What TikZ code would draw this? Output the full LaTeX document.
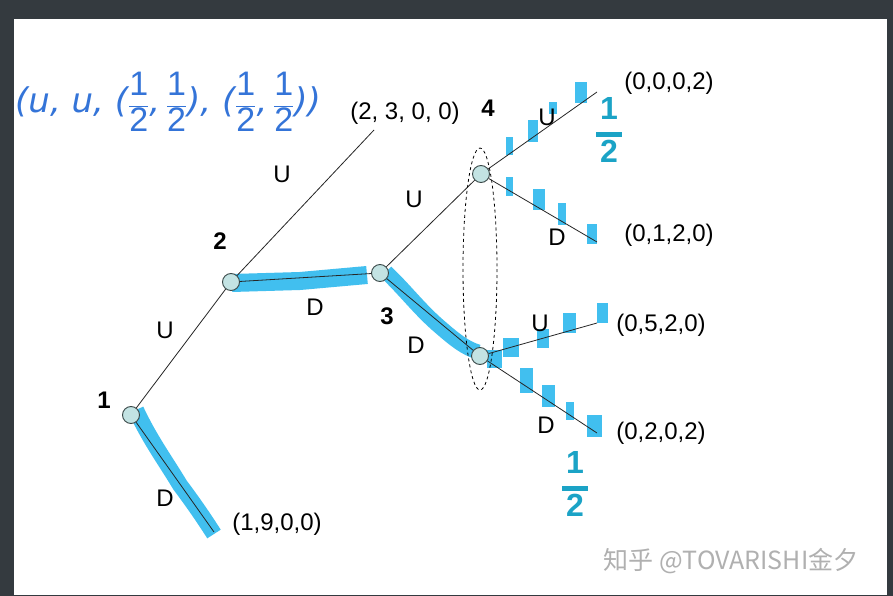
\documentclass[tikz,border=0pt]{standalone}
\usepackage{fontspec}
\setmainfont{Liberation Sans}
\newfontfamily\cjkfont{Noto Sans CJK SC}
\newfontfamily\handfont{DejaVu Sans}
\definecolor{bgdark}{HTML}{343A3F}
\definecolor{nodefill}{HTML}{C3E3E3}
\definecolor{nodeedge}{HTML}{3A4848}
\definecolor{hl}{HTML}{41BFEF}
\definecolor{handblue}{HTML}{3474D8}
\definecolor{teal}{HTML}{1BA3C6}
\definecolor{wmgray}{HTML}{B0B0B0}
\newcommand{\hhalf}{\ensuremath{\displaystyle\frac{\mathrm{1}}{\mathrm{2}}}}
\begin{document}
\begin{tikzpicture}[x=1pt,y=-1pt,
  state/.style={circle,draw=nodeedge,fill=nodefill,line width=0.9pt,minimum size=17pt,inner sep=0pt},
  branch/.style={draw=black!85,line width=0.8pt},
  lbl/.style={font=\fontsize{24}{28}\selectfont,inner sep=0pt},
  num/.style={font=\fontsize{24}{28}\selectfont\bfseries,inner sep=0pt},
  hlstroke/.style={draw=hl,line width=15pt,line cap=butt,line join=round},
  halfmark/.style={text=teal,inner sep=0pt,font=\fontsize{32}{32}\selectfont\bfseries}
]
\useasboundingbox (0,0) rectangle (893,596);
\fill[bgdark] (0,0) rectangle (893,596);
\fill[white] (14,19) rectangle (887,595);

% highlights
\draw[hlstroke,line width=16pt] (136,410) .. controls (150,440) and (165,460) .. (180,485) .. controls (195,505) and (205,520) .. (214,534);
\draw[hlstroke,line width=18pt] (232,283) -- (300,281) -- (367,275);
\draw[hlstroke,line width=15pt] (386,272) .. controls (405,290) and (420,310) .. (440,327) .. controls (455,340) and (465,348) .. (478,352);
% N4a U blocks
\fill[hl] (506,137) rectangle (513,155);
\fill[hl] (528,120) rectangle (538,142);
\fill[hl] (549,102) rectangle (557,114);
\fill[hl] (575,82) rectangle (587,103);
% N4a D blocks
\fill[hl] (506,177) rectangle (513,196);
\fill[hl] (533,189) rectangle (545,210);
\fill[hl] (558,203) rectangle (566,225);
\fill[hl] (587,224) rectangle (597,244);
% N4b U blocks
\fill[hl] (487,350) rectangle (502,368);
\fill[hl] (503,338) rectangle (519,357);
\fill[hl] (537,329) rectangle (549,348);
\fill[hl] (563,313) rectangle (576,333);
\fill[hl] (597,303) rectangle (608,323);
% N4b D blocks
\fill[hl] (520,368) rectangle (533,393);
\fill[hl] (542,385) rectangle (555,407);
\fill[hl] (566,402) rectangle (574,420);
\fill[hl] (587,415) rectangle (602,437);

% info set
\draw[dashed,line width=0.8pt] (480,269) ellipse [x radius=17, y radius=121];

% nodes
\node[state] (n1) at (131,415) {};
\node[state] (n2) at (231,282) {};
\node[state] (n3) at (380,273) {};
\node[state] (n4a) at (481,174) {};
\node[state] (n4b) at (480,356) {};
\coordinate (e2u) at (374,130);
\coordinate (e1d) at (214,532);
\coordinate (e4au) at (597,92);
\coordinate (e4ad) at (597,242);
\coordinate (e4bu) at (597,323);
\coordinate (e4bd) at (597,433);

\draw[branch] (n1) -- (n2);
\draw[branch] (n1) -- (e1d);
\draw[branch] (n2) -- (e2u);
\draw[branch] (n2) -- (n3);
\draw[branch] (n3) -- (n4a);
\draw[branch] (n3) -- (n4b);
\draw[branch] (n4a) -- (e4au);
\draw[branch] (n4a) -- (e4ad);
\draw[branch] (n4b) -- (e4bu);
\draw[branch] (n4b) -- (e4bd);

% payoffs
\node[lbl] (p1) at (405,113) {(2, 3, 0, 0)};
\node[lbl] (p2) at (669,83) {(0,0,0,2)};
\node[lbl] (p3) at (669,235) {(0,1,2,0)};
\node[lbl] (p4) at (661,325) {(0,5,2,0)};
\node[lbl] (p5) at (661,433) {(0,2,0,2)};
\node[lbl] (p6) at (277,524) {(1,9,0,0)};

% player numbers
\node[num] (k1) at (104,400) {1};
\node[num] (k2) at (220,241) {2};
\node[num] (k3) at (387,316) {3};
\node[num] (k4) at (488,108) {4};

% actions
\node[lbl] (u1) at (282,174) {U};
\node[lbl] (u2) at (165,330) {U};
\node[lbl] (u3) at (414,199) {U};
\node[lbl] (u4) at (547,117) {U};
\node[lbl] (u5) at (540,323) {U};
\node[lbl] (d1) at (315,307) {D};
\node[lbl] (d2) at (165,498) {D};
\node[lbl] (d3) at (416,345) {D};
\node[lbl] (d4) at (557,237) {D};
\node[lbl] (d5) at (546,425) {D};

% handwritten annotations
\node[anchor=west,text=handblue,inner sep=0pt,font=\handfont\itshape\fontsize{34}{36}\selectfont] (hw) at (15,102)
  {(u, u, (\hhalf,\,\hhalf), (\hhalf,\,\hhalf))};
\node[halfmark] (h1) at (609,135) {\begin{tabular}{@{}c@{}}1\\[-15pt]\rule{26pt}{4.5pt}\\[-6pt]2\end{tabular}};
\node[halfmark] (h2) at (575,489) {\begin{tabular}{@{}c@{}}1\\[-15pt]\rule{26pt}{4.5pt}\\[-6pt]2\end{tabular}};

% watermark
\node[text=wmgray,inner sep=0pt,font=\cjkfont\fontsize{25}{27}\selectfont] (wm) at (731,561) {知乎 @TOVARISHI金夕};
\end{tikzpicture}
\end{document}
